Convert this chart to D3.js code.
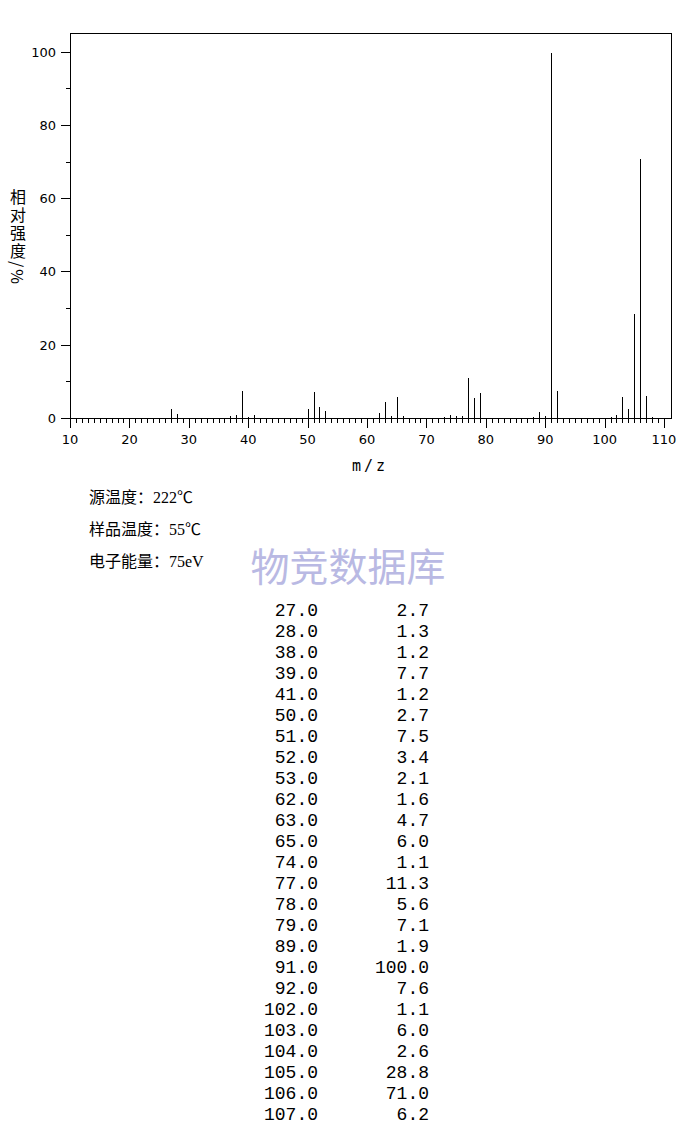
<!DOCTYPE html>
<html><head><meta charset="utf-8">
<script src="https://cdn.jsdelivr.net/npm/d3@7/dist/d3.min.js"></script>
<style>body{margin:0;background:#fff}svg{display:block}</style>
</head><body>
<svg id="c" width="696" height="1134"></svg>
<script>
// Listed peaks (m/z, relative intensity %)
const mzList = [27,28,38,39,41,50,51,52,53,62,63,65,74,77,78,79,89,91,92,102,103,104,105,106,107];
const intensityList = [2.7,1.3,1.2,7.7,1.2,2.7,7.5,3.4,2.1,1.6,4.7,6.0,1.1,11.3,5.6,7.1,1.9,100.0,7.6,1.1,6.0,2.6,28.8,71.0,6.2];
// Small unlisted peaks seen in the plot (estimated)
const minorMz = [37,40,64,66,67,73,75,76,86,87,88,90,101,108];
const minorInt = [0.7,0.6,0.9,0.8,0.4,0.5,0.9,0.9,0.4,0.4,0.5,0.9,0.5,0.5];
const xTicks = [10,20,30,40,50,60,70,80,90,100,110];
const yTicks = [0,20,40,60,80,100];
const infoLines = ["源温度：222℃","样品温度：55℃","电子能量：75eV"];

const svg = d3.select("#c");
const x = d3.scaleLinear().domain([10,110]).range([70,664]);
const y = d3.scaleLinear().domain([0,100]).range([418,51.7]);
const L=70.5, R=671.5, T=33.5, B=418.5;
const g = svg.append("g").attr("shape-rendering","crispEdges");

// frame
g.append("path").attr("d",`M${L},${B}V${T}H${R}V${B}H${L}`).attr("fill","none").attr("stroke","#000").attr("stroke-width",1);

// peaks
const peaks = mzList.map((m,i)=>({m,v:intensityList[i]})).concat(minorMz.map((m,i)=>({m,v:minorInt[i]})));
g.selectAll("line.pk").data(peaks).enter().append("line").attr("class","pk")
  .attr("x1",d=>Math.round(x(d.m))+0.5).attr("x2",d=>Math.round(x(d.m))+0.5)
  .attr("y1",B).attr("y2",d=>Math.round(y(d.v))+0.5)
  .attr("stroke","#000").attr("stroke-width",1);

// x ticks
const xMinor = d3.range(10,111,1);
g.selectAll("line.xt").data(xMinor).enter().append("line")
  .attr("x1",d=>Math.round(x(d))+0.5).attr("x2",d=>Math.round(x(d))+0.5)
  .attr("y1",B).attr("y2",d=>B+(d%10===0?9:4))
  .attr("stroke","#000");
svg.selectAll("text.xl").data(xTicks).enter().append("text")
  .attr("x",d=>x(d)).attr("y",444).attr("text-anchor","middle")
  .attr("font-family","DejaVu Sans").attr("font-size",13).text(d=>d);

// y ticks
const yAll = d3.range(0,101,10);
g.selectAll("line.yt").data(yAll).enter().append("line")
  .attr("y1",d=>Math.round(y(d))+0.5).attr("y2",d=>Math.round(y(d))+0.5)
  .attr("x1",L).attr("x2",d=>L-(d%20===0?10:5)).attr("stroke","#000");
svg.selectAll("text.yl").data(yTicks).enter().append("text")
  .attr("x",56).attr("y",d=>y(d)+5).attr("text-anchor","end")
  .attr("font-family","DejaVu Sans").attr("font-size",13).text(d=>d);

// y label (vertical writing)
svg.append("text").attr("x",18).attr("y",189)
  .style("writing-mode","vertical-rl").style("text-orientation","mixed")
  .attr("font-family","Noto Sans CJK SC").attr("font-size",16).attr("letter-spacing",2)
  .text("相对强度/%");

// x label
svg.append("text").attr("x",370).attr("y",471).attr("text-anchor","middle")
  .attr("font-family","DejaVu Sans Mono").attr("font-size",15).attr("letter-spacing",3).text("m/z");

// info lines
svg.selectAll("text.info").data(infoLines).enter().append("text")
  .attr("x",89).attr("y",(d,i)=>503+i*32)
  .attr("font-family","Liberation Serif, Noto Sans CJK SC").attr("font-size",16).text(d=>d);

// watermark
svg.append("text").attr("x",348).attr("y",581).attr("text-anchor","middle")
  .attr("font-family","Noto Sans CJK SC").attr("font-size",39).attr("fill","#b9b9e3").text("物竞数据库");

// table
const rows = svg.append("g").attr("font-family","Liberation Mono").attr("font-size",18);
rows.selectAll("text.c1").data(mzList).enter().append("text")
  .attr("x",318).attr("y",(d,i)=>616+i*21).attr("text-anchor","end").text(d=>d.toFixed(1));
rows.selectAll("text.c2").data(intensityList).enter().append("text")
  .attr("x",429).attr("y",(d,i)=>616+i*21).attr("text-anchor","end").text(d=>d.toFixed(1));
</script>
</body></html>
